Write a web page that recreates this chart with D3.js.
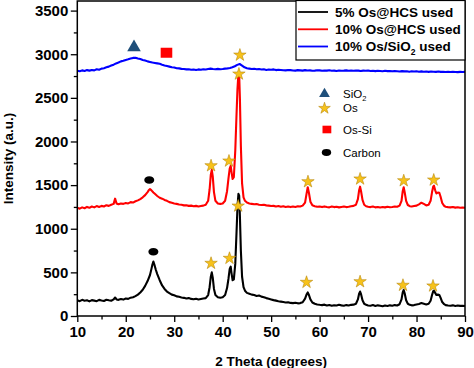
<!DOCTYPE html>
<html>
<head>
<meta charset="utf-8">
<script src="https://cdn.jsdelivr.net/npm/d3@7"></script>
<style>
  html, body { margin: 0; padding: 0; background: #fff; }
  svg { display: block; }
  text { font-family: "Liberation Sans", Arial, sans-serif; }
</style>
</head>
<body>
<svg id="chart" width="474" height="368"></svg>
<script>
// ---------------- data ----------------
const xTicks = [10, 20, 30, 40, 50, 60, 70, 80, 90];
const yTicks = [0, 500, 1000, 1500, 2000, 2500, 3000, 3500];
const xLabel = "2 Theta (degrees)";
const yLabel = "Intensity (a.u.)";

// 5% Os@HCS used  [2θ, intensity]
const hcs5 = [
  [10,180],[10.5,170],[11,185],[11.5,175],[12,180],[12.5,168],[13,182],[13.5,176],[14,170],[14.5,185],
  [15,178],[15.5,172],[16,186],[16.5,180],[17,175],[17.5,190],[17.8,212],[18.1,190],[18.5,185],[19,195],
  [19.5,188],[20,200],[20.5,196],[21,210],[21.5,215],[22,228],[22.5,245],[23,270],[23.5,300],[24,345],
  [24.5,400],[25,470],[25.3,540],[25.5,590],[25.7,625],[25.9,590],[26.2,530],[26.5,480],[27,410],[27.5,350],
  [28,310],[28.5,280],[29,262],[29.5,245],[30,238],[30.5,225],[31,220],[31.5,212],[32,208],[32.5,200],
  [33,205],[33.5,196],[34,192],[34.5,198],[35,190],[35.5,195],[36,200],[36.5,205],[37,240],[37.3,330],
  [37.55,450],[37.75,500],[37.95,440],[38.2,310],[38.5,240],[39,215],[39.5,210],[40,215],[40.5,240],[40.9,320],
  [41.2,430],[41.45,540],[41.65,565],[41.85,480],[42.05,410],[42.3,420],[42.6,600],[42.85,950],[43.05,1250],[43.25,1400],
  [43.4,1380],[43.55,1150],[43.75,750],[44.0,450],[44.3,330],[44.6,290],[45,265],[45.5,255],[46,245],[46.5,240],
  [47,230],[47.5,235],[48,222],[48.5,215],[49,205],[49.5,198],[50,190],[50.5,182],[51,176],[51.5,170],
  [52,165],[52.5,160],[53,155],[53.5,158],[54,150],[54.5,148],[55,152],[55.5,145],[56,148],[56.5,158],
  [57,200],[57.3,245],[57.55,270],[57.8,240],[58.1,190],[58.5,155],[59,140],[59.5,132],[60,128],[60.5,125],
  [61,130],[61.5,120],[62,126],[62.5,118],[63,124],[63.5,120],[64,128],[64.5,122],[65,118],[65.5,125],
  [66,120],[66.5,128],[67,130],[67.5,140],[67.9,190],[68.15,255],[68.35,280],[68.55,250],[68.85,180],[69.2,140],
  [69.6,128],[70,120],[70.5,118],[71,125],[71.5,115],[72,122],[72.5,118],[73,112],[73.5,120],[74,115],
  [74.5,122],[75,118],[75.5,125],[76,120],[76.5,135],[76.9,190],[77.15,270],[77.35,298],[77.55,260],[77.85,180],
  [78.2,140],[78.6,128],[79,122],[79.5,125],[80,132],[80.5,138],[81,148],[81.5,140],[82,132],[82.5,140],
  [82.9,175],[83.2,240],[83.45,285],[83.6,290],[83.85,265],[84.1,240],[84.4,245],[84.7,240],[84.95,210],[85.3,160],
  [85.7,135],[86,125],[86.5,120],[87,118],[87.5,122],[88,115],[88.5,120],[89,116],[89.5,118],[90,114]
];

// 10% Os@HCS used
const hcs10 = [
  [10,1240],[10.5,1230],[11,1245],[11.5,1235],[12,1250],[12.5,1240],[13,1255],[13.5,1245],[14,1260],[14.5,1250],
  [15,1262],[15.5,1255],[16,1270],[16.5,1262],[17,1275],[17.5,1285],[17.8,1345],[18.1,1290],[18.5,1280],[19,1290],
  [19.5,1285],[20,1295],[20.5,1290],[21,1305],[21.5,1300],[22,1315],[22.5,1325],[23,1340],[23.5,1360],[24,1385],
  [24.5,1420],[24.8,1445],[25,1455],[25.3,1440],[25.7,1415],[26,1400],[26.5,1375],[27,1355],[27.5,1345],[28,1330],
  [28.5,1320],[29,1305],[29.5,1298],[30,1290],[30.5,1285],[31,1278],[31.5,1275],[32,1268],[32.5,1270],[33,1262],
  [33.5,1265],[34,1258],[34.5,1262],[35,1255],[35.5,1260],[36,1265],[36.5,1275],[37,1320],[37.3,1450],[37.55,1620],
  [37.75,1675],[37.95,1600],[38.2,1420],[38.5,1320],[39,1290],[39.5,1285],[40,1290],[40.5,1320],[40.9,1430],[41.2,1580],
  [41.45,1690],[41.65,1720],[41.85,1640],[42.05,1570],[42.3,1590],[42.6,1900],[42.85,2300],[43.05,2600],[43.25,2780],[43.4,2770],
  [43.55,2500],[43.75,1950],[44.0,1520],[44.3,1360],[44.6,1320],[45,1300],[45.5,1290],[46,1285],[46.5,1280],[47,1283],
  [47.5,1275],[48,1272],[48.5,1275],[49,1268],[49.5,1265],[50,1260],[50.5,1262],[51,1255],[51.5,1260],[52,1252],
  [52.5,1258],[53,1250],[53.5,1255],[54,1248],[54.5,1255],[55,1250],[55.5,1258],[56,1255],[56.5,1265],[57,1300],
  [57.3,1400],[57.55,1475],[57.8,1410],[58.1,1310],[58.5,1268],[59,1258],[59.5,1252],[60,1255],[60.5,1248],[61,1256],
  [61.5,1250],[62,1245],[62.5,1255],[63,1248],[63.5,1252],[64,1245],[64.5,1250],[65,1255],[65.5,1248],[66,1252],
  [66.5,1258],[67,1262],[67.5,1275],[67.9,1340],[68.15,1440],[68.35,1482],[68.55,1430],[68.85,1330],[69.2,1275],[69.6,1258],
  [70,1252],[70.5,1248],[71,1255],[71.5,1245],[72,1250],[72.5,1243],[73,1250],[73.5,1245],[74,1252],[74.5,1246],
  [75,1250],[75.5,1255],[76,1252],[76.5,1265],[76.9,1320],[77.15,1430],[77.35,1475],[77.55,1420],[77.85,1320],[78.2,1272],
  [78.6,1258],[79,1255],[79.5,1260],[80,1265],[80.5,1280],[81,1298],[81.5,1285],[82,1268],[82.5,1275],[82.9,1320],
  [83.2,1420],[83.45,1485],[83.6,1493],[83.85,1440],[84.1,1405],[84.4,1415],[84.7,1412],[84.95,1370],[85.3,1295],[85.7,1262],
  [86,1252],[86.5,1248],[87,1245],[87.5,1250],[88,1242],[88.5,1246],[89,1240],[89.5,1244],[90,1240]
];

// 10% Os/SiO2 used
const sio2 = [
  [10,2810],[10.5,2805],[11,2815],[11.5,2808],[12,2818],[12.5,2812],[13,2820],[13.5,2815],[14,2828],[14.5,2822],
  [15,2835],[15.5,2840],[16,2850],[16.5,2858],[17,2870],[17.5,2880],[18,2895],[18.5,2905],[19,2918],[19.5,2925],
  [20,2935],[20.5,2942],[21,2950],[21.5,2958],[22,2960],[22.5,2952],[23,2945],[23.5,2935],[24,2928],[24.5,2918],
  [25,2912],[25.5,2905],[26,2900],[26.5,2895],[27,2890],[27.5,2880],[28,2872],[28.5,2865],[29,2858],[29.5,2850],
  [30,2848],[30.5,2840],[31,2838],[31.5,2832],[32,2830],[32.5,2826],[33,2828],[33.5,2822],[34,2825],[34.5,2820],
  [35,2826],[35.5,2822],[36,2828],[36.5,2825],[37,2830],[37.5,2835],[38,2830],[38.5,2828],[39,2832],[39.5,2828],
  [40,2830],[40.5,2835],[41,2838],[41.5,2842],[42,2850],[42.5,2862],[43,2878],[43.5,2888],[44,2870],[44.5,2850],
  [45,2840],[45.5,2835],[46,2830],[46.5,2834],[47,2828],[47.5,2830],[48,2825],[48.5,2828],[49,2820],[49.5,2825],
  [50,2822],[50.5,2826],[51,2818],[51.5,2822],[52,2820],[52.5,2816],[53,2815],[53.5,2820],[54,2818],[54.5,2814],
  [55,2812],[55.5,2818],[56,2815],[56.5,2812],[57,2818],[57.5,2814],[58,2815],[58.5,2810],[59,2812],[59.5,2816],
  [60,2815],[60.5,2810],[61,2814],[61.5,2812],[62,2816],[62.5,2810],[63,2812],[63.5,2808],[64,2814],[64.5,2810],
  [65,2812],[65.5,2815],[66,2810],[66.5,2813],[67,2810],[67.5,2814],[68,2812],[68.5,2808],[69,2812],[69.5,2810],
  [70,2814],[70.5,2808],[71,2810],[71.5,2806],[72,2810],[72.5,2808],[73,2805],[73.5,2810],[74,2806],[74.5,2808],
  [75,2804],[75.5,2808],[76,2805],[76.5,2802],[77,2806],[77.5,2803],[78,2805],[78.5,2800],[79,2804],[79.5,2802],
  [80,2805],[80.5,2800],[81,2803],[81.5,2800],[82,2802],[82.5,2798],[83,2802],[83.5,2800],[84,2798],[84.5,2802],
  [85,2798],[85.5,2800],[86,2797],[86.5,2800],[87,2796],[87.5,2799],[88,2797],[88.5,2795],[89,2798],[89.5,2796],[90,2798]
];

const seriesNames = ["5% Os@HCS used", "10% Os@HCS used", "10% Os/SiO2 used"];
const seriesColors = ["#000000", "#ff0000", "#0000ff"];

// phase markers [2θ, intensity]
const osStars = [
  [43.55,2990],[43.35,2773],[37.6,1722],[41.3,1776],[57.6,1539],[68.35,1570],[77.36,1550],[83.55,1558],
  [43.2,1260],[37.6,604],[41.4,661],[57.3,386],[68.35,393],[77.2,352],[83.4,344]
];
const carbonDots = [[25.7,737],[24.85,1559]];
const sio2Triangles = [[21.7,3080]];
const osSiSquares = [[28.4,3017]];
const phaseNames = ["SiO2", "Os", "Os-Si", "Carbon"];

// ---------------- drawing ----------------
const svg = d3.select("#chart");
svg.append("rect").attr("width", 474).attr("height", 368).attr("fill", "#fff");

const L = 77.3, R = 465, T = 1, B = 316;
const x = d3.scaleLinear().domain([10, 90]).range([L, R]);
const y = d3.scaleLinear().domain([0, 3610]).range([B, T]);

svg.append("clipPath").attr("id", "clip")
  .append("rect").attr("x", L).attr("y", T).attr("width", R - L).attr("height", B - T);

const line = d3.line().x(d => x(d[0])).y(d => y(d[1]));
const plot = svg.append("g").attr("clip-path", "url(#clip)");
[hcs5, hcs10, sio2].forEach((s, i) => {
  plot.append("path").datum(s)
    .attr("fill", "none")
    .attr("stroke", seriesColors[i])
    .attr("stroke-width", 2.1)
    .attr("stroke-linejoin", "round")
    .attr("d", line);
});

// markers
const starPath = d3.symbol().type(d3.symbolStar).size(48);
const starSmall = d3.symbol().type(d3.symbolStar).size(42);
const triPath = d3.symbol().type(d3.symbolTriangle).size(80);
const triSmall = d3.symbol().type(d3.symbolTriangle).size(50);
const starFill = "#f7c21a", starStroke = "#b98a10", triFill = "#1f4f7a";

svg.append("g").selectAll("path").data(osStars).join("path")
  .attr("transform", d => `translate(${x(d[0])},${y(d[1])})`)
  .attr("d", starPath).attr("fill", starFill).attr("stroke", starStroke).attr("stroke-width", 0.6);

svg.append("g").selectAll("ellipse").data(carbonDots).join("ellipse")
  .attr("cx", d => x(d[0])).attr("cy", d => y(d[1])).attr("rx", 5).attr("ry", 3.8).attr("fill", "#000");

svg.append("g").selectAll("path").data(sio2Triangles).join("path")
  .attr("transform", d => `translate(${x(d[0])},${y(d[1])})`)
  .attr("d", triPath).attr("fill", triFill);

svg.append("g").selectAll("rect").data(osSiSquares).join("rect")
  .attr("x", d => x(d[0]) - 5.8).attr("y", d => y(d[1]) - 5).attr("width", 11.6).attr("height", 10).attr("fill", "#ff0000");

// axes
const xMinor = d3.range(15, 90, 10);
const yMinor = d3.range(250, 3600, 500);
const fmt = d3.format("d");

const gx = svg.append("g").attr("transform", `translate(0,${B})`);
gx.call(d3.axisBottom(x).tickValues(xTicks).tickSize(6).tickPadding(4).tickFormat(fmt));
const gxm = svg.append("g").attr("transform", `translate(0,${B})`);
gxm.call(d3.axisBottom(x).tickValues(xMinor).tickSize(3.5).tickFormat(""));

const gy = svg.append("g").attr("transform", `translate(${L},0)`);
gy.call(d3.axisLeft(y).tickValues(yTicks).tickSize(6.5).tickPadding(2.5).tickFormat(fmt));
const gym = svg.append("g").attr("transform", `translate(${L},0)`);
gym.call(d3.axisLeft(y).tickValues(yMinor).tickSize(3.5).tickFormat(""));

[gx, gxm, gy, gym].forEach(g => {
  g.select(".domain").remove();
  g.selectAll(".tick line").attr("stroke", "#000").attr("stroke-width", 1.3);
  g.selectAll(".tick text").attr("fill", "#000")
    .style("font-family", "'Liberation Sans', Arial, sans-serif")
    .style("font-size", "15px").style("font-weight", "bold");
});

// frame
svg.append("rect").attr("x", L).attr("y", T).attr("width", R - L).attr("height", B - T)
  .attr("fill", "none").attr("stroke", "#000").attr("stroke-width", 1.5);

// axis titles
svg.append("text").attr("x", (L + R) / 2).attr("y", 361)
  .attr("text-anchor", "middle").attr("dominant-baseline", "central")
  .style("font-size", "13.5px").style("font-weight", "bold").text(xLabel);
svg.append("text").attr("transform", `translate(8.5,${(T + B) / 2}) rotate(-90)`)
  .attr("text-anchor", "middle").attr("dominant-baseline", "central")
  .style("font-size", "13.5px").style("font-weight", "bold").text(yLabel);

// series legend
const lg = svg.append("g");
lg.append("rect").attr("x", 296).attr("y", 0.5).attr("width", R - 296).attr("height", 59.5)
  .attr("fill", "#fff").attr("stroke", "#000").attr("stroke-width", 1.2);
const rowY = [12, 29.3, 46.5];
seriesNames.forEach((name, i) => {
  lg.append("line").attr("x1", 298).attr("x2", 328).attr("y1", rowY[i]).attr("y2", rowY[i])
    .attr("stroke", seriesColors[i]).attr("stroke-width", 1.8);
  const t = lg.append("text").attr("x", 335).attr("y", rowY[i] + 4.8)
    .style("font-size", "13.5px").style("font-weight", "bold");
  if (name.includes("SiO2")) {
    t.append("tspan").text("10% Os/SiO");
    t.append("tspan").attr("dy", 4).style("font-size", "8.5px").text("2");
    t.append("tspan").attr("dy", -4).text(" used");
  } else {
    t.text(name);
  }
});

// phase legend
const pl = svg.append("g");
const pY = [94, 108.3, 129.5, 152.5];
pl.append("path").attr("transform", `translate(324.5,${pY[0]})`).attr("d", triSmall).attr("fill", triFill);
pl.append("path").attr("transform", `translate(324.5,${pY[1]})`).attr("d", starSmall)
  .attr("fill", starFill).attr("stroke", starStroke).attr("stroke-width", 0.6);
pl.append("rect").attr("x", 322.5).attr("y", pY[2] - 3.8).attr("width", 8.8).attr("height", 7.6).attr("fill", "#ff0000");
pl.append("ellipse").attr("cx", 326.5).attr("cy", pY[3]).attr("rx", 4.7).attr("ry", 3.4).attr("fill", "#000");
phaseNames.forEach((n, i) => {
  const t = pl.append("text").attr("x", 343).attr("y", pY[i] + 4).style("font-size", "11.5px");
  if (n === "SiO2") {
    t.append("tspan").text("SiO");
    t.append("tspan").attr("dy", 3).style("font-size", "7.5px").text("2");
  } else {
    t.text(n);
  }
});
</script>
</body>
</html>
